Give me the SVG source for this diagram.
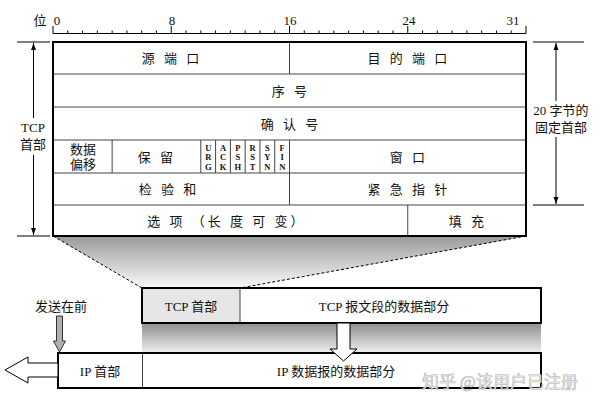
<svg xmlns="http://www.w3.org/2000/svg" width="600" height="406" viewBox="0 0 600 406">
<style>
text{font-family:'Liberation Serif','Noto Sans CJK SC',serif;fill:#111;font-size:13px}
.c{text-anchor:middle}
.cj{letter-spacing:3px}
.flag{font-size:8.5px;font-weight:bold;text-anchor:middle}
.thick{fill:none;stroke:#000;stroke-width:2}
.thin{stroke:#444;stroke-width:1;fill:none}
.dash{stroke:#000;stroke-width:1;stroke-dasharray:3,2;fill:none}
.ln{stroke:#000;stroke-width:1;fill:none}
</style>
<defs>
<linearGradient id="g1" x1="0" y1="0" x2="0" y2="1">
<stop offset="0" stop-color="#9a9a9a"/>
<stop offset="1" stop-color="#fafafa"/>
</linearGradient>
<linearGradient id="g2" x1="0" y1="0" x2="0" y2="1">
<stop offset="0" stop-color="#8e8e8e"/>
<stop offset="1" stop-color="#efefef"/>
</linearGradient>
<marker id="ah" viewBox="0 0 10 10" refX="10" refY="5" markerWidth="7" markerHeight="7" orient="auto-start-reverse" markerUnits="userSpaceOnUse">
<path d="M0,1.5 L10,5 L0,8.5 z" fill="#000"/>
</marker>
</defs>
<rect width="600" height="406" fill="#fff"/>

<!-- shaded projections -->
<g id="projection">
<polygon points="53,236 526,236 240,288 142,288" fill="url(#g1)"/>
<line class="dash" x1="53" y1="236" x2="142" y2="288"/>
<line class="dash" x1="526" y1="236" x2="240" y2="288"/>
<rect x="142" y="323" width="399" height="30" fill="url(#g2)"/>
</g>

<!-- ruler -->
<g id="ruler">
<text x="40" y="25" class="c">位</text>
<text x="57" y="25" class="c">0</text>
<text x="172" y="25" class="c">8</text>
<text x="290" y="25" class="c">16</text>
<text x="409" y="25" class="c">24</text>
<text x="513" y="25" class="c">31</text>
<line class="ln" x1="53" y1="33.5" x2="526" y2="33.5"/>
<path class="ln" d="M53,33.5V26 M67.78,33.5V30.5 M82.56,33.5V30.5 M97.34,33.5V30.5 M112.13,33.5V30.5 M126.91,33.5V30.5 M141.69,33.5V30.5 M156.47,33.5V30.5 M171.25,33.5V26 M186.03,33.5V30.5 M200.81,33.5V30.5 M215.59,33.5V30.5 M230.38,33.5V30.5 M245.16,33.5V30.5 M259.94,33.5V30.5 M274.72,33.5V30.5 M289.5,33.5V26 M304.28,33.5V30.5 M319.06,33.5V30.5 M333.84,33.5V30.5 M348.63,33.5V30.5 M363.41,33.5V30.5 M378.19,33.5V30.5 M392.97,33.5V30.5 M407.75,33.5V26 M422.53,33.5V30.5 M437.31,33.5V30.5 M452.09,33.5V30.5 M466.88,33.5V30.5 M481.66,33.5V30.5 M496.44,33.5V30.5 M511.22,33.5V30.5 M526,33.5V26"/>
</g>

<!-- TCP header table -->
<g id="tcp-header">
<rect x="53" y="42" width="473" height="194" fill="#fff"/>
<g class="thin">
<line x1="53" y1="74" x2="526" y2="74"/>
<line x1="53" y1="107" x2="526" y2="107"/>
<line x1="53" y1="140" x2="526" y2="140"/>
<line x1="53" y1="173" x2="526" y2="173"/>
<line x1="53" y1="205" x2="526" y2="205"/>
<line x1="289.5" y1="42" x2="289.5" y2="74"/>
<line x1="112.13" y1="140" x2="112.13" y2="173"/>
<line x1="200.81" y1="140" x2="200.81" y2="173"/>
<line x1="215.59" y1="140" x2="215.59" y2="173"/>
<line x1="230.38" y1="140" x2="230.38" y2="173"/>
<line x1="245.16" y1="140" x2="245.16" y2="173"/>
<line x1="259.94" y1="140" x2="259.94" y2="173"/>
<line x1="274.72" y1="140" x2="274.72" y2="173"/>
<line x1="289.5" y1="140" x2="289.5" y2="205"/>
<line x1="407.75" y1="205" x2="407.75" y2="236"/>
</g>
<rect class="thick" x="53" y="42" width="473" height="194"/>
</g>
<g id="src-port"><text x="172" y="63" class="c cj">源 端 口</text></g>
<g id="dst-port"><text x="409" y="63" class="c cj">目 的 端 口</text></g>
<g id="seq"><text x="291" y="95.5" class="c cj">序 号</text></g>
<g id="ack"><text x="291" y="128.5" class="c cj">确 认 号</text></g>
<g id="data-offset"><text x="83" y="154" class="c">数据</text><text x="83" y="169" class="c">偏移</text></g>
<g id="reserved"><text x="157" y="161.5" class="c cj">保 留</text></g>
<g id="flags">
<text class="flag" x="208.2" y="150.5">U</text><text class="flag" x="208.2" y="160">R</text><text class="flag" x="208.2" y="169.5">G</text>
<text class="flag" x="223" y="150.5">A</text><text class="flag" x="223" y="160">C</text><text class="flag" x="223" y="169.5">K</text>
<text class="flag" x="237.8" y="150.5">P</text><text class="flag" x="237.8" y="160">S</text><text class="flag" x="237.8" y="169.5">H</text>
<text class="flag" x="252.6" y="150.5">R</text><text class="flag" x="252.6" y="160">S</text><text class="flag" x="252.6" y="169.5">T</text>
<text class="flag" x="267.4" y="150.5">S</text><text class="flag" x="267.4" y="160">Y</text><text class="flag" x="267.4" y="169.5">N</text>
<text class="flag" x="282.2" y="150.5">F</text><text class="flag" x="282.2" y="160">I</text><text class="flag" x="282.2" y="169.5">N</text>
</g>
<g id="window"><text x="409" y="161.5" class="c cj">窗 口</text></g>
<g id="checksum"><text x="169" y="194" class="c cj">检 验 和</text></g>
<g id="urgent"><text x="409" y="194" class="c cj">紧 急 指 针</text></g>
<g id="options"><text x="227" y="225.5" class="c cj">选 项 （长 度 可 变）</text></g>
<g id="padding"><text x="468" y="225.5" class="c cj">填 充</text></g>

<!-- brackets -->
<g id="tcp-header-label">
<text x="33" y="132" class="c">TCP</text>
<text x="33" y="149" class="c">首部</text>
</g>
<g id="fixed-label">
<text x="561" y="115" class="c">20 字节的</text>
<text x="561" y="132" class="c">固定首部</text>
</g>

<!-- TCP segment -->
<g id="tcp-segment">
<rect x="142" y="288" width="98" height="35" fill="#e6e6e6"/>
<rect x="240" y="288" width="301" height="35" fill="#fff"/>
<line class="thin" x1="240" y1="288" x2="240" y2="323"/>
<rect class="thick" x="142" y="288" width="399" height="35"/>
<text x="191" y="311" class="c">TCP 首部</text>
<text x="384" y="311" class="c">TCP 报文段的数据部分</text>
</g>

<g id="send-first"><text x="61" y="311" class="c">发送在前</text></g>

<!-- IP datagram -->
<g id="ip-datagram">
<rect x="58" y="353" width="483" height="35" fill="#fff"/>
<line class="thin" x1="142.5" y1="353" x2="142.5" y2="388"/>
<rect class="thick" x="58" y="353" width="483" height="35"/>
<text x="100" y="376" class="c">IP 首部</text>
<text x="336" y="376" class="c">IP 数据报的数据部分</text>
</g>

<!-- connectors -->
<g id="connectors">
<path class="ln" d="M17,42H50 M17,236H50 M533,42H584 M533,205H584"/>
<line class="ln" x1="33.5" y1="118" x2="33.5" y2="43" marker-end="url(#ah)"/>
<line class="ln" x1="33.5" y1="155" x2="33.5" y2="235" marker-end="url(#ah)"/>
<line class="ln" x1="556" y1="101" x2="556" y2="43" marker-end="url(#ah)"/>
<line class="ln" x1="556" y1="137" x2="556" y2="204" marker-end="url(#ah)"/>
<polygon points="56.5,316 62.5,316 62.5,341 65.5,341 59.5,352 53.5,341 56.5,341" fill="#b0b0b0" stroke="#333" stroke-width="1"/>
<polygon points="337,323 350,323 350,349 357,349 343.5,361 330,349 337,349" fill="#fff" stroke="#000" stroke-width="1"/>
<polygon points="5,370 28,357 28,363 58,363 58,377 28,377 28,383" fill="#fff" stroke="#000" stroke-width="1"/>
</g>

<g id="watermark"><text x="422" y="388" style="font-family:'Noto Sans CJK SC',sans-serif;font-size:17px;fill:#f2f2f2;stroke:#b5b5b5;stroke-width:0.6">知乎 @该用户已注册</text></g>
</svg>
